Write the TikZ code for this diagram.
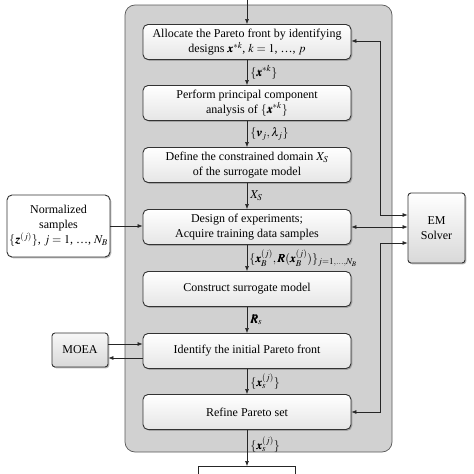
\documentclass[tikz,border=0pt]{standalone}
\usepackage{mathptmx}
\usepackage[no-math]{fontspec}
\setmainfont{Liberation Serif}
\usepackage{bm}
\usetikzlibrary{arrows.meta,shadows}

\begin{document}
\begin{tikzpicture}[x=1pt,y=-1pt,
	>={Latex[length=5pt,width=4pt]},
	stage/.style={draw=black!80, line width=0.9pt, rounded corners=5pt,
		top color=white, bottom color=black!10,
		drop shadow={shadow xshift=1.3pt, shadow yshift=-1.3pt, opacity=0.55},
		minimum width=208pt, minimum height=35pt, align=center, inner sep=2pt,
		font=\fontsize{12}{15}\selectfont},
	side/.style={stage, minimum width=0pt},
	tag/.style={right, font=\fontsize{12}{14}\selectfont, inner sep=3pt},
	link/.style={draw=black!85, line width=0.6pt}]
		
		\useasboundingbox (0,0) rectangle (474,474);
		\filldraw[fill=black!18, draw=black!65, line width=0.7pt, rounded corners=10pt] (125,5) rectangle (392,452);
		
		\node[stage] (1) at (247,42) {Allocate the Pareto front by identifying\\designs $\bm{x}^{*k}$, $k = 1$, \ldots, $p$};
		\node[stage] (2) at (247,103) {Perform principal component\\analysis of $\{\bm{x}^{*k}\}$};
		\node[stage] (3) at (247,165) {Define the constrained domain $X_S$\\of the surrogate model};
		\node[stage] (4) at (247,227) {Design of experiments;\\Acquire training data samples};
		\node[stage] (5) at (247,289) {Construct surrogate model};
		\node[stage] (6) at (247,351) {Identify the initial Pareto front};
		\node[stage] (7) at (247,412) {Refine Pareto set};
		
		\node[side, minimum width=103pt, minimum height=62pt, top color=white, bottom color=white] (8) at (58.5,226) {Normalized\\samples\\$\{\bm{z}^{(j)}\}$, $j = 1$, \ldots, $N_B$};
		\node[side, minimum width=56pt, minimum height=34pt, rounded corners=3pt, top color=black!3, bottom color=black!15] (9) at (80,350) {MOEA};
		\node[side, minimum width=57pt, minimum height=70pt, rounded corners=3pt, top color=white, bottom color=black!15] (10) at (436.5,228) {EM\\Solver};
		\node[draw=black!85, line width=0.9pt, fill=white, minimum width=97pt, minimum height=30pt, anchor=north] (11) at (247,466) {};
		
		\coordinate (0) at (247,-5);
		\draw[link,->] (0) -- (1);
		\draw[link,->] (1) -- node[tag] {$\{\bm{x}^{*k}\}$} (2);
		\draw[link,->] (2) -- node[tag] {$\{\bm{v}_j, \lambda_j\}$} (3);
		\draw[link,->] (3) -- node[tag] {$X_S$} (4);
		\draw[link,->] (4) -- node[tag, xshift=-1pt] {$\{\bm{x}_B^{(j)}, \bm{R}(\bm{x}_B^{(j)})\}_{j=1,\ldots,N_B}$} (5);
		\draw[link,->] (5) -- node[tag] {$\bm{R}_s$} (6);
		\draw[link,->] (6) -- node[tag] {$\{\bm{x}_s^{(j)}\}$} (7);
		\draw[link,->] (7) -- node[tag, pos=0.4] {$\{\bm{x}_s^{(j)}\}$} (11);
		
		\draw[link,->] (8.east) -- (8.east -| 4.west);
		\draw[link,->] ([yshift=6pt]9.east) -- ([yshift=6pt]9.east -| 6.west);
		\draw[link,<-] ([yshift=-8pt]9.east) -- ([yshift=-8pt]9.east -| 6.west);
		
		\draw[link,<->] ([yshift=1pt]1.east) -| (380,215) -- ([yshift=13pt]10.west);
		\draw[link,<->] (4.east) -- (4.east -| 10.west);
		\draw[link,<->] (7.east) -| (380,243) -- ([yshift=-15pt]10.west);
	
		\end{tikzpicture}
\end{document}
